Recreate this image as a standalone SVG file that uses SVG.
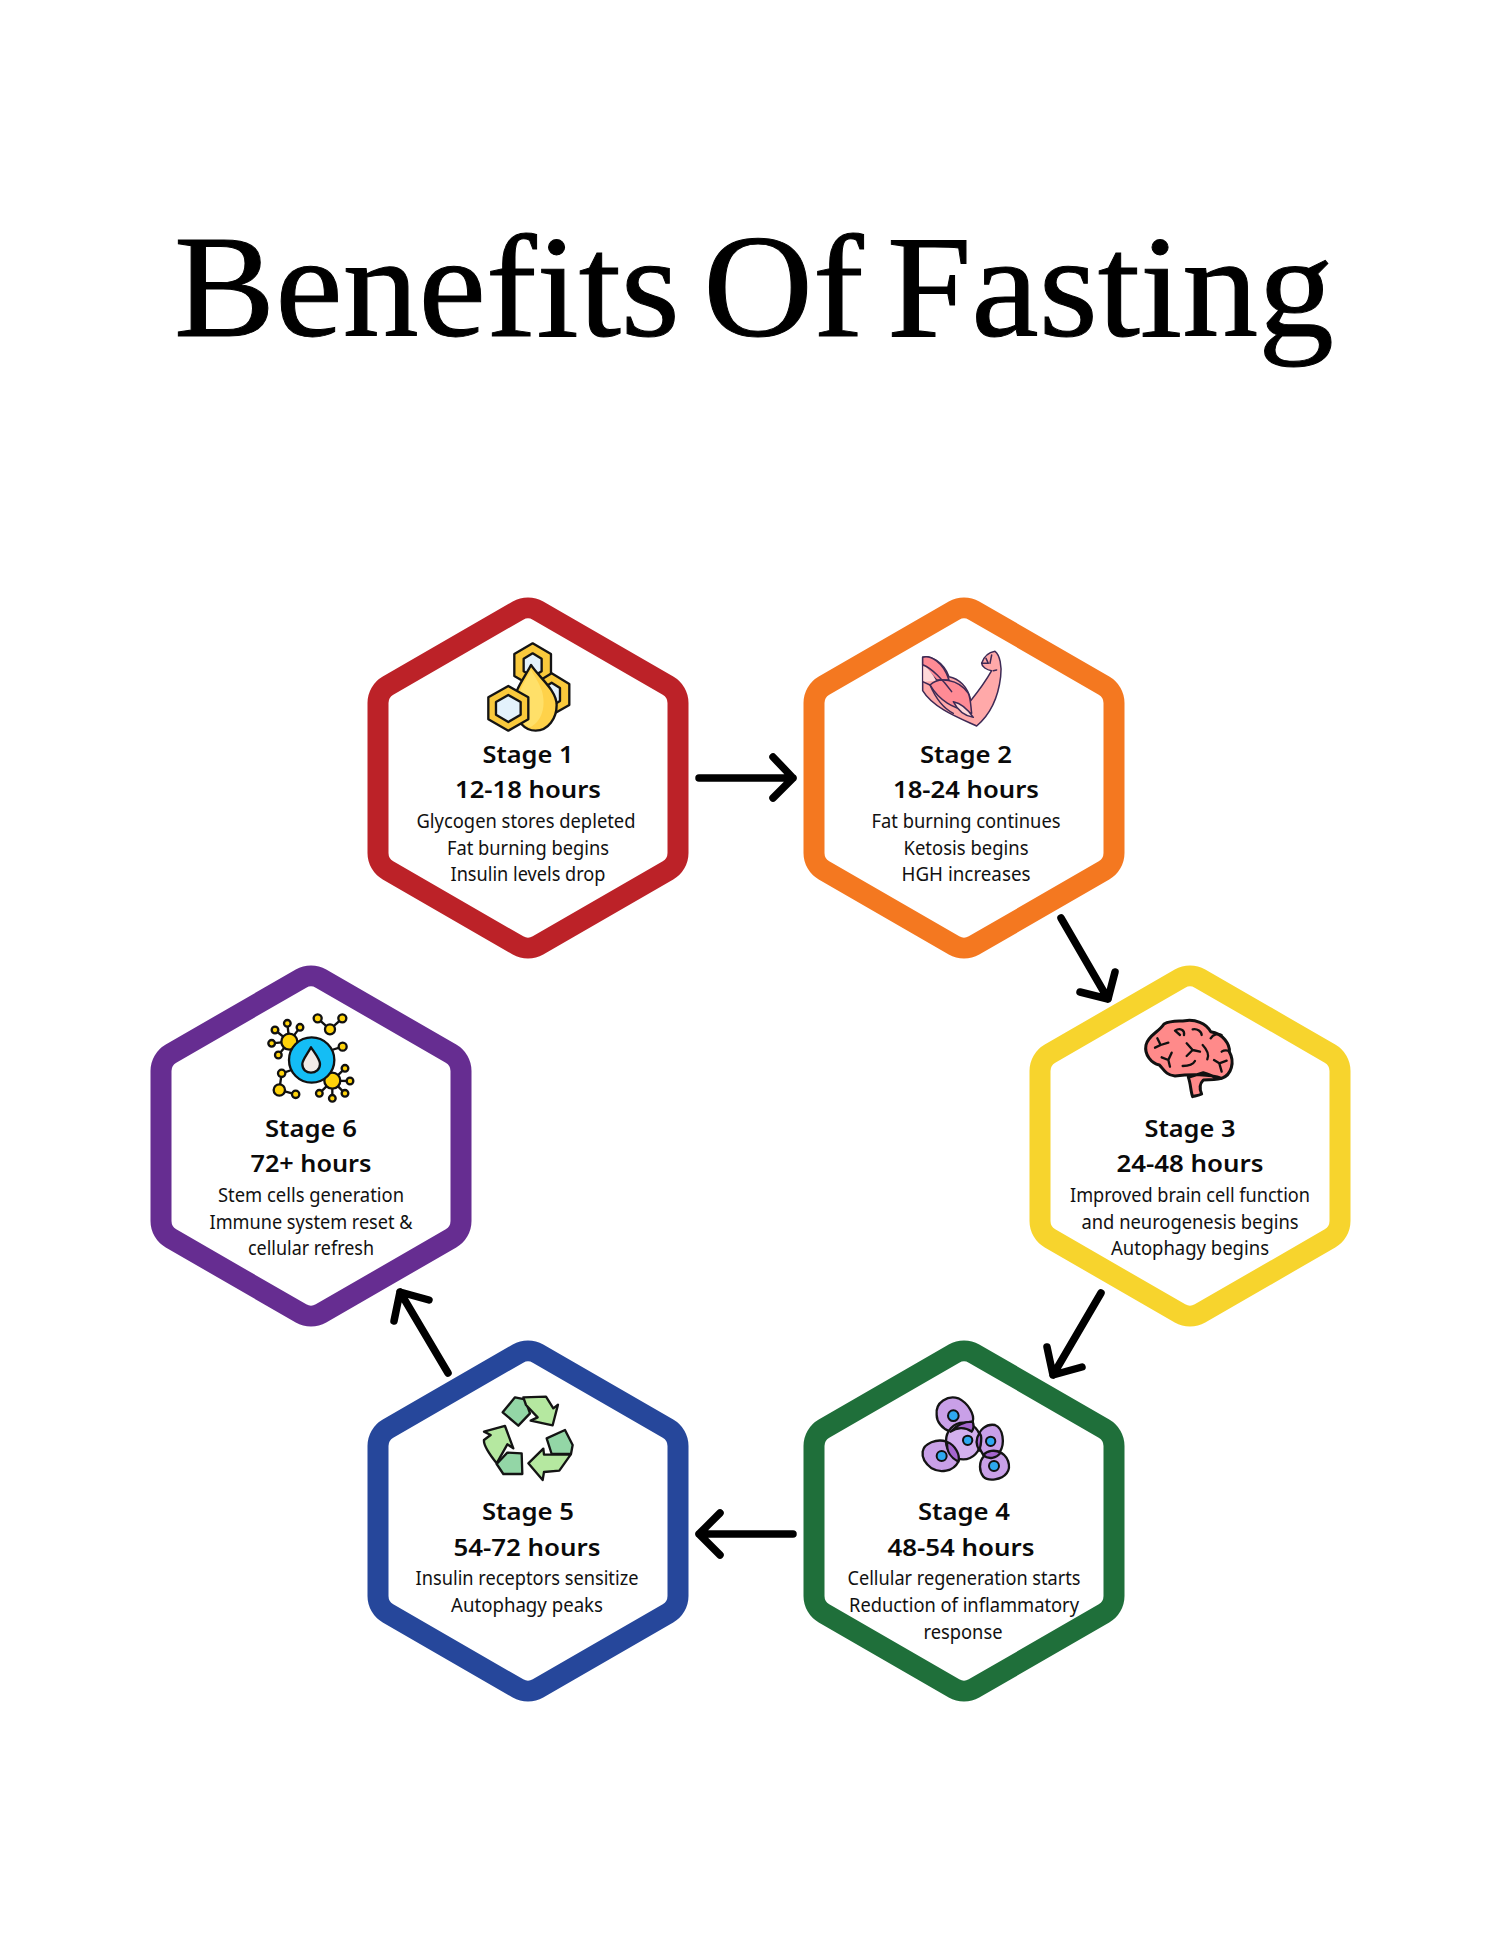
<svg xmlns="http://www.w3.org/2000/svg" width="1500" height="1942" viewBox="0 0 1500 1942">
<style>
.title{font-family:"Liberation Serif","DejaVu Serif",serif;font-size:146px;fill:#000;stroke:#000;stroke-width:1;word-spacing:-14px}
.h{font-family:"Noto Sans","Liberation Sans",sans-serif;font-size:24px;font-weight:600;fill:#0a0a0a;text-anchor:middle}
.d{font-family:"Noto Sans","Liberation Sans",sans-serif;font-size:19px;fill:#111;text-anchor:middle}
.hex{fill:#fff;stroke-width:21}
.arrow{fill:none;stroke:#000;stroke-width:7.5;stroke-linecap:round;stroke-linejoin:round}
.ic{stroke:#141414;stroke-width:7;stroke-linejoin:round;stroke-linecap:round}
.ln{fill:none;stroke:#111;stroke-width:7;stroke-linecap:round;stroke-linejoin:round}
.arm{stroke:#3d2a55;stroke-width:4.5;stroke-linejoin:round;stroke-linecap:round}
</style>
<defs>
<path id="hex" d="M-10,-167.43A20,20 0 0 1 10,-167.43L140,-92.37A20,20 0 0 1 150,-75.05L150,75.05A20,20 0 0 1 140,92.37L10,167.43A20,20 0 0 1 -10,167.43L-140,92.37A20,20 0 0 1 -150,75.05L-150,-75.05A20,20 0 0 1 -140,-92.37Z"/>
</defs>
<rect width="1500" height="1942" fill="#fff"/>
<text class="title" x="174" y="336" textLength="1160" lengthAdjust="spacingAndGlyphs">Benefits Of Fasting</text>

<g id="connectors">
<path class="arrow" d="M699,778H793M773,757L793,778L773,798"/>
<path class="arrow" d="M1061,918L1108,999M1115,972L1108,999L1080,992"/>
<path class="arrow" d="M1101,1293L1053,1375M1047,1347L1053,1375L1082,1367"/>
<path class="arrow" d="M793,1534H699M720,1513L699,1534L720,1555"/>
<path class="arrow" d="M448,1373L400,1292M394,1321L400,1292L429,1300"/>
</g>

<g id="stage1">
<use href="#hex" class="hex" x="528" y="778" stroke="#BC2228"/>
<g transform="translate(360 590) scale(.3333)">
<path class="ic" fill="#F9C93C" d="M518,160L573,192V258L518,290L463,258V192Z"/>
<path class="ic" fill="#E3F2FC" d="M518,190L545,206V244L518,260L491,244V206Z"/>
<path class="ic" fill="#F9C93C" d="M575,250L628,282V345L575,375L522,345V282Z"/>
<path class="ic" fill="#E3F2FC" d="M575,278L600,294V333L575,348L550,333V294Z"/>
<path class="ic" fill="#FFD24A" d="M513,225C490,270 462,300 462,345C462,390 495,422 527,422C565,422 590,385 590,345C590,300 535,260 513,225Z"/>
<path fill="#FFE069" d="M513,240C495,275 472,305 472,345C472,385 490,405 510,412C545,395 560,350 545,300C535,275 525,260 513,240Z"/>
<path class="ic" fill="#F9C93C" d="M445,288L505,322V388L445,422L385,388V322Z"/>
<path class="ic" fill="#E3F2FC" d="M445,315L482,336V374L445,396L408,374V336Z"/>
</g>
<text class="h" x="528" y="763" textLength="91" lengthAdjust="spacingAndGlyphs">Stage 1</text>
<text class="h" x="528" y="798" textLength="146" lengthAdjust="spacingAndGlyphs">12-18 hours</text>
<text class="d" x="526" y="828" textLength="219" lengthAdjust="spacingAndGlyphs">Glycogen stores depleted</text>
<text class="d" x="528" y="855" textLength="162" lengthAdjust="spacingAndGlyphs">Fat burning begins</text>
<text class="d" x="528" y="881" textLength="155" lengthAdjust="spacingAndGlyphs">Insulin levels drop</text>
</g>

<g id="stage2">
<use href="#hex" class="hex" x="964" y="778" stroke="#F47820"/>
<g transform="translate(880 630) scale(.3333)">
<path class="arm" fill="#FFA9A9" d="M128,82C150,75 190,95 207,140C235,145 265,170 272,212C290,190 322,145 335,122C320,120 305,110 305,100C310,85 320,68 345,64C360,75 366,110 362,140C355,200 335,250 290,288C240,265 160,235 128,182Z"/>
<path class="arm" fill="#FF8B95" d="M128,82C150,75 190,95 207,150L170,150C150,130 135,110 128,105Z"/>
<path fill="#FFD9D9" d="M130,105C145,115 160,135 168,152L130,155Z"/>
<path class="arm" fill="#FF8B95" d="M150,165C175,140 235,145 265,190C272,205 272,225 275,250C235,235 185,225 150,165Z"/>
<path class="arm" fill="#FFD9D9" d="M220,215C245,220 265,240 280,262C255,258 235,245 220,215Z"/>
<path class="arm" fill="none" d="M130,105C155,115 190,150 215,185M128,155L150,165C165,200 190,235 220,250M305,100L322,100M318,85L325,100M335,75L330,100M340,122L350,120"/>
</g>
<text class="h" x="966" y="763" textLength="92" lengthAdjust="spacingAndGlyphs">Stage 2</text>
<text class="h" x="966" y="798" textLength="146" lengthAdjust="spacingAndGlyphs">18-24 hours</text>
<text class="d" x="966" y="828" textLength="189" lengthAdjust="spacingAndGlyphs">Fat burning continues</text>
<text class="d" x="966" y="855" textLength="125" lengthAdjust="spacingAndGlyphs">Ketosis begins</text>
<text class="d" x="966" y="881" textLength="129" lengthAdjust="spacingAndGlyphs">HGH increases</text>
</g>

<g id="stage3">
<use href="#hex" class="hex" x="1190" y="1146" stroke="#F7D42D"/>
<g transform="translate(1120 1000) scale(.3333)">
<path fill="#FF8A8A" stroke="#111" stroke-width="9" stroke-linejoin="round" d="M78,135C85,105 115,98 132,72C155,60 180,65 195,62C225,58 258,68 272,95C310,100 330,135 328,155C345,185 335,225 305,235C290,240 272,222 250,218L205,232C212,250 212,275 218,290C225,288 238,286 245,282C236,262 240,250 250,240C265,240 285,240 305,235C270,222 210,222 165,228C135,225 130,205 118,195C95,190 72,165 78,135Z"/>
<path class="ln" stroke-width="8" d="M112,115L122,135L105,143M122,135L145,128M125,172L145,180L155,158M145,180L150,200M165,92C180,82 195,90 192,105M165,92L180,105M218,88C232,85 245,95 245,105M200,130L218,150L200,168M218,150L240,155M188,198C205,198 220,192 225,183M248,135C262,150 268,165 262,178M272,115C280,102 295,100 305,105M282,180L298,190L320,182M298,190L305,215M305,155C312,150 325,150 328,155"/>
</g>
<text class="h" x="1190" y="1137" textLength="91" lengthAdjust="spacingAndGlyphs">Stage 3</text>
<text class="h" x="1190" y="1172" textLength="147" lengthAdjust="spacingAndGlyphs">24-48 hours</text>
<text class="d" x="1190" y="1202" textLength="240" lengthAdjust="spacingAndGlyphs">Improved brain cell function</text>
<text class="d" x="1190" y="1229" textLength="217" lengthAdjust="spacingAndGlyphs">and neurogenesis begins</text>
<text class="d" x="1190" y="1255" textLength="158" lengthAdjust="spacingAndGlyphs">Autophagy begins</text>
</g>

<g id="stage4">
<use href="#hex" class="hex" x="964" y="1521" stroke="#1F6F3A"/>
<g transform="translate(900 1380) scale(.3333)">
<path class="ic" fill="#C9A0E8" d="M110,105C105,65 145,45 175,55C205,70 225,105 218,125C190,125 165,140 150,155C125,145 110,125 110,105Z"/>
<path class="ic" fill="#C9A0E8" d="M68,215C72,190 110,175 140,185C170,195 185,225 175,245C160,275 120,280 95,265C75,250 65,235 68,215Z"/>
<path class="ic" fill="#C9A0E8" d="M235,175C235,150 260,130 285,135C310,145 315,190 300,215C290,235 265,240 250,225C240,210 232,195 235,175Z"/>
<path class="ic" fill="#C9A0E8" d="M240,260C240,230 265,210 295,215C325,225 335,260 320,280C305,300 265,305 250,290C243,280 240,270 240,260Z"/>
<ellipse class="ic" fill="#D3B0EE" cx="190" cy="183" rx="52" ry="55"/>
<path class="ic" fill="#A566CF" d="M152,155C170,135 195,125 218,125C222,135 220,148 215,155C195,140 170,142 152,155Z"/>
<path class="ic" fill="#A566CF" d="M142,186C165,195 182,225 175,245C155,235 138,215 142,186Z"/>
<path class="ic" fill="#A566CF" d="M238,160C250,165 240,205 238,212C228,195 228,175 238,160Z"/>
<path class="ic" fill="#A566CF" d="M250,225C265,240 290,235 302,218C285,208 262,212 250,225Z"/>
<g fill="#2EA8F0" stroke="#111" stroke-width="6">
<circle cx="160" cy="107" r="16"/><circle cx="203" cy="181" r="14"/><circle cx="125" cy="228" r="15"/><circle cx="272" cy="184" r="14"/><circle cx="282" cy="258" r="15"/>
</g>
</g>
<text class="h" x="964" y="1520" textLength="92" lengthAdjust="spacingAndGlyphs">Stage 4</text>
<text class="h" x="961" y="1556" textLength="147" lengthAdjust="spacingAndGlyphs">48-54 hours</text>
<text class="d" x="964" y="1585" textLength="233" lengthAdjust="spacingAndGlyphs">Cellular regeneration starts</text>
<text class="d" x="964" y="1612" textLength="230" lengthAdjust="spacingAndGlyphs">Reduction of inflammatory</text>
<text class="d" x="963" y="1639" textLength="79" lengthAdjust="spacingAndGlyphs">response</text>
</g>

<g id="stage5">
<use href="#hex" class="hex" x="528" y="1521" stroke="#26479B"/>
<g transform="translate(470 1380) scale(.3333)" class="ic">
<path fill="#93D6A6" d="M98,97L135,52L165,58L180,100L145,137Z"/>
<path fill="#B5E8A0" d="M160,52L228,50L250,85L264,74L248,136L182,122L203,112L168,75Z"/>
<path fill="#B5E8A0" d="M42,155L105,138L130,205L112,193L80,250C60,225 40,195 42,180L62,165Z"/>
<path fill="#93D6A6" d="M112,218L155,220L157,282L100,282L80,252Z"/>
<path fill="#93D6A6" d="M230,175L285,150L308,195L303,222L245,222Z"/>
<path fill="#B5E8A0" d="M175,250L220,206L222,224L302,224L268,272L222,276L218,300Z"/>
</g>
<text class="h" x="528" y="1520" textLength="92" lengthAdjust="spacingAndGlyphs">Stage 5</text>
<text class="h" x="527" y="1556" textLength="147" lengthAdjust="spacingAndGlyphs">54-72 hours</text>
<text class="d" x="527" y="1585" textLength="223" lengthAdjust="spacingAndGlyphs">Insulin receptors sensitize</text>
<text class="d" x="527" y="1612" textLength="152" lengthAdjust="spacingAndGlyphs">Autophagy peaks</text>
</g>

<g id="stage6">
<use href="#hex" class="hex" x="311" y="1146" stroke="#662D91"/>
<g transform="translate(250 1000) scale(.3333)">
<path class="ln" d="M118,125L75,90M118,125L112,70M118,125L150,82M118,125L65,130M118,125L85,165M240,88L203,55M240,88L277,55M245,150L278,140M247,242L285,205M247,242L300,243M247,242L285,280M247,242L247,295M247,242L208,280M95,220L125,210M95,220L88,270L137,283"/>
<g fill="#FFD30A" stroke="#111" stroke-width="7">
<circle cx="118" cy="125" r="24"/><circle cx="75" cy="90" r="10"/><circle cx="112" cy="70" r="10"/><circle cx="150" cy="82" r="10"/><circle cx="65" cy="130" r="10"/><circle cx="85" cy="165" r="10"/>
<circle cx="240" cy="88" r="15"/><circle cx="203" cy="55" r="12"/><circle cx="277" cy="55" r="12"/><circle cx="278" cy="140" r="12"/>
<circle cx="247" cy="242" r="24"/><circle cx="285" cy="205" r="10"/><circle cx="300" cy="243" r="10"/><circle cx="285" cy="280" r="10"/><circle cx="247" cy="295" r="10"/><circle cx="208" cy="280" r="10"/>
<circle cx="88" cy="270" r="17"/><circle cx="95" cy="220" r="11"/><circle cx="137" cy="283" r="11"/>
</g>
<circle cx="185" cy="180" r="68" fill="#14BDF5" stroke="#111" stroke-width="7"/>
<path fill="#F3EAE6" stroke="#111" stroke-width="7" stroke-linejoin="round" d="M183,142C170,165 157,180 157,192C157,210 170,218 183,218C197,218 210,208 210,192C210,178 195,160 183,142Z"/>
</g>
<text class="h" x="311" y="1137" textLength="92" lengthAdjust="spacingAndGlyphs">Stage 6</text>
<text class="h" x="311" y="1172" textLength="121" lengthAdjust="spacingAndGlyphs">72+ hours</text>
<text class="d" x="311" y="1202" textLength="186" lengthAdjust="spacingAndGlyphs">Stem cells generation</text>
<text class="d" x="311" y="1229" textLength="203" lengthAdjust="spacingAndGlyphs">Immune system reset &amp;</text>
<text class="d" x="311" y="1255" textLength="126" lengthAdjust="spacingAndGlyphs">cellular refresh</text>
</g>
</svg>
